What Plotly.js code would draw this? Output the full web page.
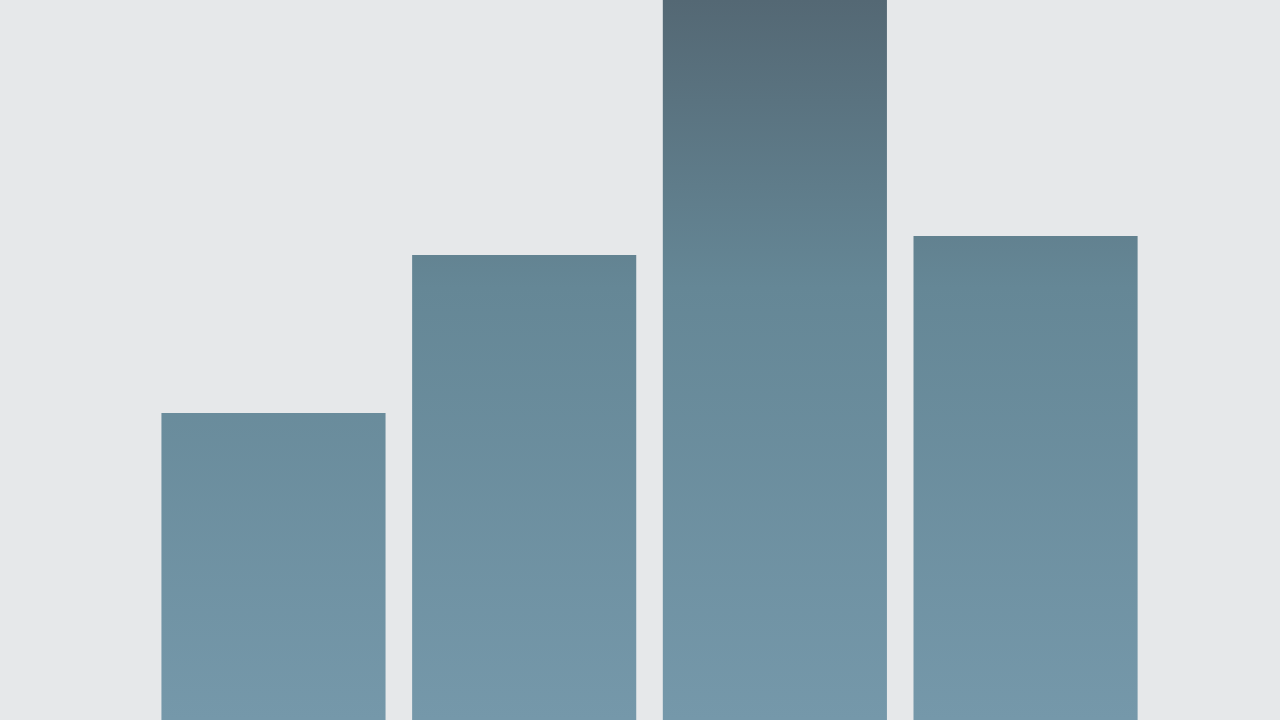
<!DOCTYPE html>
<html>
<head>
<meta charset="utf-8">
<script src="https://cdn.plot.ly/plotly-3.0.1.min.js"></script>
<style>
  html, body { margin: 0; padding: 0; background: #e6e8ea; }
  #chart { width: 1280px; height: 720px; }
</style>
</head>
<body>
<div id="chart"></div>
<script>
// four bars, no labels in the picture
const categories = ["A", "B", "C", "D"];
const values = [30.7, 46.5, 80, 48.4];

const barWidth = 0.894;
const topColor = "#546874";
const midColor = "#658796";
const bottomColor = "#7598aa";

// each bar is a filled rectangle so it can carry a vertical gradient
const traces = categories.map((cat, i) => {
    const x0 = i - barWidth / 2, x1 = i + barWidth / 2;
    return {
        x: [x0, x1, x1, x0, x0],
        y: [0, 0, values[i], values[i], 0],
        type: "scatter",
        mode: "lines",
        line: {width: 0},
        fill: "toself",
        fillgradient: {
            type: "vertical",
            start: 0,
            stop: 72,
            colorscale: [[0, bottomColor], [0.6, midColor], [1, topColor]]
        },
        name: cat,
        hoverinfo: "skip",
        showlegend: false
    };
});

Plotly.newPlot("chart", traces, {
    width: 1280,
    height: 720,
    margin: {l: 0, r: 0, t: 0, b: 0},
    paper_bgcolor: "#e6e8ea",
    plot_bgcolor: "#e6e8ea",
    xaxis: {range: [-1.091, 4.015], visible: false, fixedrange: true},
    yaxis: {range: [0, 72], visible: false, fixedrange: true},
    showlegend: false
}, {displayModeBar: false, staticPlot: true});
</script>
</body>
</html>
